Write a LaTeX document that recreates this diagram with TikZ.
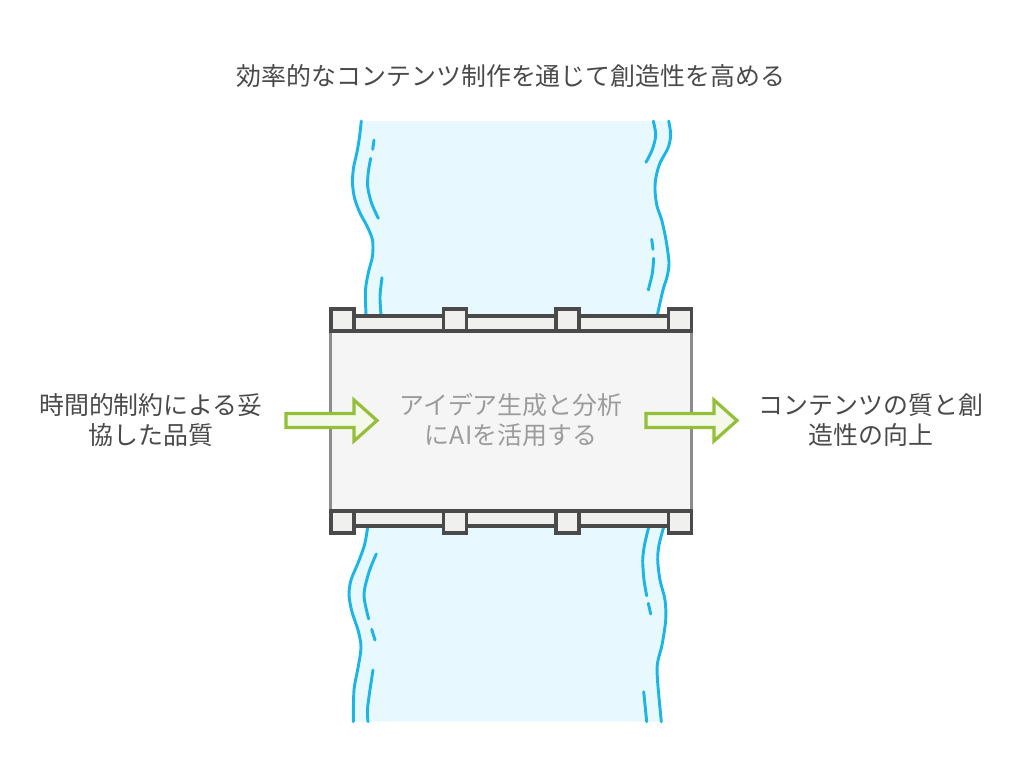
\documentclass[tikz,border=0pt]{standalone}
\usepackage{fontspec}
\setmainfont{Noto Sans CJK JP}
\usetikzlibrary{positioning,calc}
\definecolor{ink}{HTML}{4A4A4A}
\definecolor{inkfaint}{HTML}{9C9C9C}
\definecolor{rail}{HTML}{8C8C8C}
\definecolor{deckfill}{HTML}{F5F5F5}
\definecolor{plankfill}{HTML}{F0F0EE}
\definecolor{water}{HTML}{E8F8FF}
\definecolor{bank}{HTML}{1CB5E6}
\definecolor{leaf}{HTML}{94BF38}
\definecolor{leaffill}{HTML}{F4F9EA}
\newcommand{\bodyfont}{\fontsize{18.7}{22.5}\selectfont}

\begin{document}
\begin{tikzpicture}[x=0.75pt,y=-0.75pt,align=center]
    \tikzstyle{caption} = [text=ink,font=\bodyfont]
    \tikzstyle{faint} = [text=inkfaint,font=\bodyfont]
    \tikzstyle{shore} = [draw=bank,line width=2.2pt,line cap=round]
    \tikzstyle{deck} = [fill=deckfill,minimum width=270pt,minimum height=135pt,inner sep=0pt]
    \tikzstyle{plank} = [draw=ink,fill=plankfill,line width=2.3pt,minimum width=270pt,minimum height=11.25pt,inner sep=0pt]
    \tikzstyle{post} = [draw=ink,fill=plankfill,line width=2.3pt,minimum width=17.25pt,minimum height=16.5pt,inner sep=0pt]
    \tikzstyle{flow} = [draw=leaf,fill=leaffill,line width=2.4pt,miter limit=4]
      \useasboundingbox (0,0) rectangle (1023,783);
      % water
      \fill[water] plot[smooth] coordinates {(361.3,121) (359.5,137) (357,152) (353.5,168) (352.5,183) (354.5,198) (360,213) (367,226) (372.5,240) (372.5,256) (368.5,272) (365.5,290) (366,315)}
        -- plot[smooth] coordinates {(657.3,315) (663,290) (667,277) (669,263) (666,240) (661.7,220) (657,206) (655,190) (656,177) (660,163) (668,148) (670.7,135) (668.7,121)} -- cycle;
      \fill[water] plot[smooth] coordinates {(367.7,527) (364.5,545) (358,563) (351,580) (349,595) (352,612) (358,630) (361,647) (358,668) (354,690) (353.3,721.7)}
        -- plot[smooth] coordinates {(661.3,721.7) (657.5,680) (657.5,663) (662,645) (665.7,620) (665,600) (660,580) (657.7,560) (659,545) (663.7,527)} -- cycle;
      % upper banks
      \draw[shore] plot[smooth] coordinates {(361.3,121) (359.5,137) (357,152) (353.5,168) (352.5,183) (354.5,198) (360,213) (367,226) (372.5,240) (372.5,256) (368.5,272) (365.5,290) (366,315)};
      \draw[shore] (374,140) -- (372.7,149.3);
      \draw[shore] plot[smooth] coordinates {(370.7,158.3) (368.3,172) (367.7,186.7) (371.5,203) (378.3,218.3)};
      \draw[shore] plot[smooth] coordinates {(382,277.7) (380,296.7) (381,315)};
      \draw[shore] plot[smooth] coordinates {(668.7,121) (670.7,135) (668,148) (660,163) (656,177) (655,190) (657,206) (661.7,220) (666,240) (669,263) (667,277) (663,290) (657.3,315)};
      \draw[shore] plot[smooth] coordinates {(653.3,121) (655.7,135) (652.5,149) (646,162.3)};
      \draw[shore] (651.7,239.3) -- (653,249.3);
      \draw[shore] plot[smooth] coordinates {(653.7,258.3) (652.3,273.3) (648.3,290)};
      % lower banks
      \draw[shore] plot[smooth] coordinates {(367.7,527) (364.5,545) (358,563) (351,580) (349,595) (352,612) (358,630) (361,647) (358,668) (354,690) (353.3,721.7)};
      \draw[shore] plot[smooth] coordinates {(376.3,554) (369,572) (364,595) (368.7,619)};
      \draw[shore] (371.7,629.3) -- (375,640);
      \draw[shore] plot[smooth] coordinates {(373,670) (367.7,706.7) (368,721.7)};
      \draw[shore] plot[smooth] coordinates {(663.7,527) (659,545) (657.7,560) (660,580) (665,600) (665.7,620) (662,645) (657.5,663) (657.5,680) (661.3,721.7)};
      \draw[shore] plot[smooth] coordinates {(648.7,527) (644.5,545) (642.7,560) (644,580) (646.7,595.7)};
      \draw[shore] (648.3,603.3) -- (650.7,614);
      \draw[shore] (643.7,691.7) -- (646.7,721.7);
      % bridge
      \node[deck] (bridge) at (511,421) {};
      \draw[rail,line width=2.2pt] (bridge.north west) -- (bridge.south west);
      \draw[rail,line width=2.2pt] (bridge.north east) -- (bridge.south east);
      \node[plank] (topPlank) at (511,323.5) {};
      \node[plank] (bottomPlank) at (511,518.5) {};
      \foreach \x/\i in {342.5/1,455/2,567.5/3,680/4} {
        \node[post] (topPost\i) at (\x,320) {};
        \node[post] (bottomPost\i) at (\x,522) {};
      }
      % arrows
      \foreach \x in {286,646} \draw[flow] (\x,413.5) -- ++(68,0) -- ++(0,-13.5) -- ++(23,20.5) -- ++(-23,20.5) -- ++(0,-13.5) -- ++(-68,0) -- cycle;
      % labels
      \node[caption] (title) at (511,76) {効率的なコンテンツ制作を通じて創造性を高める};
      \node[caption] (before) at (151,420) {時間的制約による妥\\協した品質};
      \node[faint] (method) at (511,420) {アイデア生成と分析\\にAIを活用する};
      \node[caption] (after) at (871,420) {コンテンツの質と創\\造性の向上};
  \end{tikzpicture}
\end{document}
